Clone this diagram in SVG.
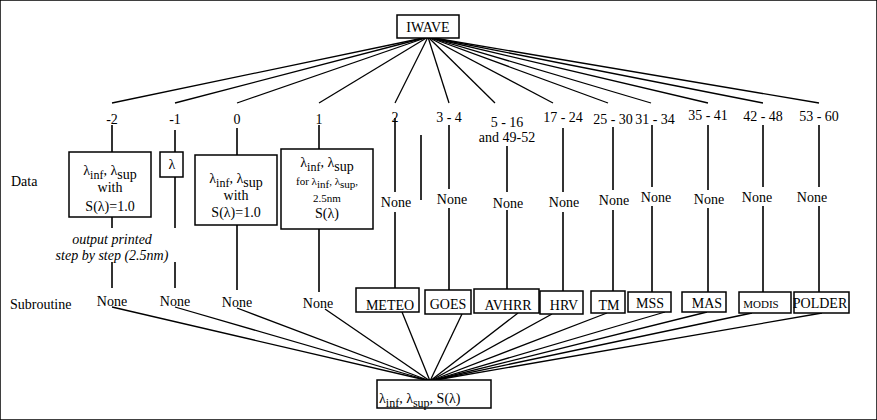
<svg xmlns="http://www.w3.org/2000/svg" width="877" height="420" viewBox="0 0 877 420">
<style>
text{font-family:"Liberation Serif",serif;font-size:14px;fill:#000}
.c{text-anchor:middle}
.s{font-size:11px}
rect{fill:#fff;stroke:#000;stroke-width:1.5}
line{stroke:#000;stroke-width:1.3}
.v{stroke:#333;stroke-width:2}
</style>
<rect width="877" height="420" fill="#fff" stroke="none"/>
<g id="connectors">
<line x1="428" y1="37" x2="112" y2="103"/><line x1="428" y1="37" x2="175" y2="103"/>
<line x1="428" y1="37" x2="237" y2="103"/><line x1="428" y1="37" x2="319" y2="103"/>
<line x1="428" y1="37" x2="395" y2="103"/><line x1="428" y1="37" x2="449" y2="103"/>
<line x1="428" y1="37" x2="495" y2="103"/><line x1="428" y1="37" x2="553" y2="103"/>
<line x1="428" y1="37" x2="608" y2="103"/><line x1="428" y1="37" x2="651" y2="103"/>
<line x1="428" y1="37" x2="708" y2="103"/><line x1="428" y1="37" x2="763" y2="103"/>
<line x1="428" y1="37" x2="819" y2="103"/>
<g class="vv">
<line class="v" x1="112" y1="125" x2="112" y2="152"/><line class="v" x1="112" y1="217" x2="112" y2="228"/><line class="v" x1="112" y1="262" x2="112" y2="288"/>
<line class="v" x1="175" y1="130" x2="175" y2="152"/><line class="v" x1="175" y1="177" x2="175" y2="228"/><line class="v" x1="175" y1="262" x2="175" y2="288"/>
<line class="v" x1="237" y1="128" x2="237" y2="155"/><line class="v" x1="237" y1="225" x2="237" y2="290"/>
<line class="v" x1="319" y1="125" x2="319" y2="149"/><line class="v" x1="319" y1="229" x2="319" y2="292"/>
<line class="v" x1="395" y1="118" x2="395" y2="192"/><line class="v" x1="395" y1="212" x2="395" y2="288"/>
<line class="v" x1="421" y1="135" x2="421" y2="200"/>
<line class="v" x1="449" y1="125" x2="449" y2="189"/><line class="v" x1="449" y1="208" x2="449" y2="290"/>
<line class="v" x1="507" y1="146" x2="507" y2="192"/><line class="v" x1="507" y1="210" x2="507" y2="289"/>
<line class="v" x1="563" y1="128" x2="563" y2="192"/><line class="v" x1="563" y1="212" x2="563" y2="291"/>
<line class="v" x1="613" y1="127" x2="613" y2="190"/><line class="v" x1="613" y1="210" x2="613" y2="291"/>
<line class="v" x1="652" y1="125" x2="652" y2="187"/><line class="v" x1="652" y1="206" x2="652" y2="292"/>
<line class="v" x1="708" y1="125" x2="708" y2="190"/><line class="v" x1="708" y1="208" x2="708" y2="292"/>
<line class="v" x1="763" y1="125" x2="763" y2="187"/><line class="v" x1="763" y1="206" x2="763" y2="292"/>
<line class="v" x1="819" y1="125" x2="819" y2="187"/><line class="v" x1="819" y1="206" x2="819" y2="292"/>
</g>
<line x1="112" y1="307" x2="430" y2="381"/><line x1="175" y1="307" x2="430" y2="381"/>
<line x1="237" y1="308" x2="430" y2="381"/><line x1="325" y1="309" x2="430" y2="381"/>
<line x1="402" y1="312" x2="430" y2="381"/><line x1="462" y1="314" x2="430" y2="381"/>
<line x1="518" y1="313" x2="430" y2="381"/><line x1="552" y1="314" x2="430" y2="381"/>
<line x1="607" y1="313" x2="430" y2="381"/><line x1="665" y1="312" x2="430" y2="381"/>
<line x1="707" y1="312" x2="430" y2="381"/><line x1="752" y1="313" x2="430" y2="381"/>
<line x1="822" y1="313" x2="430" y2="381"/>
</g>
<g id="iwave"><rect x="397" y="15" width="62" height="23"/><text class="c" x="428" y="32">IWAVE</text></g>
<g id="labels">
<text x="11" y="186">Data</text><text x="10" y="309">Subroutine</text>
<text class="c" x="112" y="124">-2</text><text class="c" x="175" y="124">-1</text><text class="c" x="237" y="124">0</text><text class="c" x="319" y="124">1</text>
<text class="c" x="395" y="122">2</text><text class="c" x="449" y="122">3 - 4</text><text class="c" x="507" y="127">5 - 16</text><text class="c" x="507" y="142">and 49-52</text>
<text class="c" x="563" y="122">17 - 24</text><text class="c" x="613" y="124">25 - 30</text><text class="c" x="655" y="124">31 - 34</text><text class="c" x="708" y="120">35 - 41</text><text class="c" x="763" y="121">42 - 48</text><text class="c" x="819" y="121">53 - 60</text>
</g>
<g id="data-m2"><rect x="69" y="152" width="82" height="65"/>
<text class="c" x="110" y="175">λ<tspan font-size="12" dy="4">inf</tspan><tspan dy="-4">, λ</tspan><tspan dy="4">sup</tspan></text>
<text class="c" x="110" y="192">with</text><text class="c" x="110" y="211">S(λ)=1.0</text></g>
<g id="note"><text class="c" x="112" y="244" font-style="italic">output printed</text><text class="c" x="112" y="260" font-style="italic">step by step (2.5nm)</text></g>
<g id="data-m1"><rect x="160" y="152" width="23" height="25"/><text class="c" x="172" y="169">λ</text></g>
<g id="data-0"><rect x="195" y="155" width="82" height="70"/>
<text class="c" x="236" y="183">λ<tspan font-size="12" dy="4">inf</tspan><tspan dy="-4">, λ</tspan><tspan dy="4">sup</tspan></text>
<text class="c" x="236" y="200">with</text><text class="c" x="236" y="217">S(λ)=1.0</text></g>
<g id="data-1"><rect x="281" y="149" width="92" height="80"/>
<text class="c" x="327" y="167">λ<tspan font-size="12" dy="4">inf</tspan><tspan dy="-4">, λ</tspan><tspan dy="4">sup</tspan></text>
<text class="c s" x="327" y="185">for λ<tspan dy="3">inf</tspan><tspan dy="-3">, λ</tspan><tspan dy="3">sup</tspan><tspan dy="-3">,</tspan></text>
<text class="c s" x="327" y="202">2.5nm</text><text class="c" x="327" y="218">S(λ)</text></g>
<g id="nones">
<text class="c" x="396" y="207">None</text><text class="c" x="452" y="204">None</text><text class="c" x="508" y="208">None</text>
<text class="c" x="564" y="207">None</text><text class="c" x="614" y="205">None</text><text class="c" x="656" y="202">None</text>
<text class="c" x="709" y="204">None</text><text class="c" x="757" y="202">None</text><text class="c" x="812" y="202">None</text>
<text class="c" x="112" y="306">None</text><text class="c" x="175" y="306">None</text><text class="c" x="237" y="307">None</text><text class="c" x="318" y="308">None</text>
</g>
<g id="sub-meteo"><rect x="356" y="288" width="63" height="24"/><text class="c" x="390" y="310">METEO</text></g>
<g id="sub-goes"><rect x="425" y="290" width="46" height="24"/><text class="c" x="448" y="309">GOES</text></g>
<g id="sub-avhrr"><rect x="474" y="289" width="65" height="24"/><text class="c" x="508" y="310">AVHRR</text></g>
<g id="sub-hrv"><rect x="540" y="291" width="43" height="23"/><text class="c" x="564" y="310">HRV</text></g>
<g id="sub-tm"><rect x="591" y="291" width="34" height="22"/><text class="c" x="609" y="310">TM</text></g>
<g id="sub-mss"><rect x="628" y="292" width="43" height="20"/><text class="c" x="650" y="308">MSS</text></g>
<g id="sub-mas"><rect x="682" y="292" width="44" height="20"/><text class="c" x="707" y="308">MAS</text></g>
<g id="sub-modis"><rect x="739" y="292" width="52" height="21"/><text class="c s" x="761" y="308">MODIS</text></g>
<g id="sub-polder"><rect x="794" y="292" width="55" height="21"/><text class="c" x="820" y="308" font-size="12">POLDER</text></g>
<g id="result"><rect x="377" y="380" width="114" height="28"/>
<text x="379" y="403">λ<tspan font-size="12" dy="4">inf</tspan><tspan dy="-4">, λ</tspan><tspan font-size="12" dy="4">sup</tspan><tspan dy="-4">, S(λ)</tspan></text></g>
</svg>
